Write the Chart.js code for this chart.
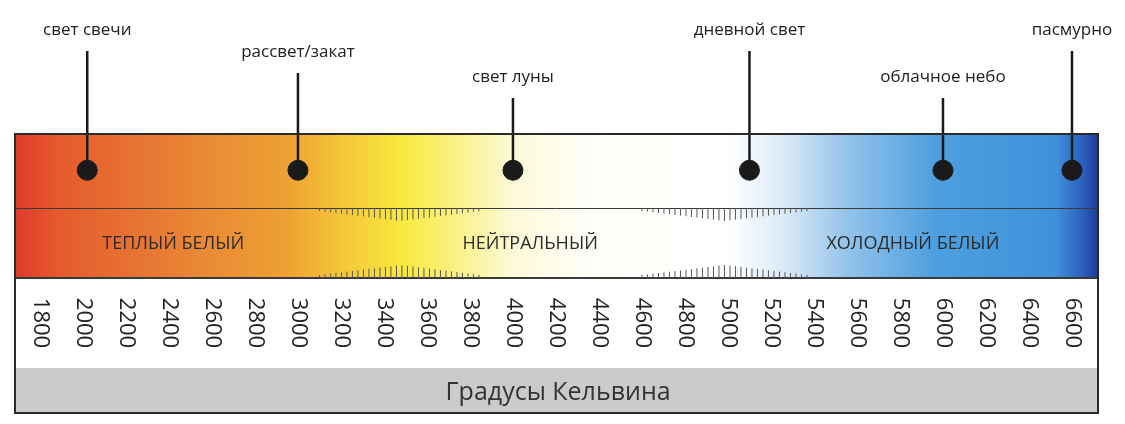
<!DOCTYPE html>
<html>
<head>
<meta charset="utf-8">
<script src="https://cdn.jsdelivr.net/npm/chart.js@4"></script>
<style>
  html, body { margin: 0; padding: 0; background: #fff; }
  #wrap { width: 1125px; height: 424px; }
</style>
</head>
<body>
<div id="wrap"><canvas id="c" width="1125" height="424"></canvas></div>
<script>
// ===== DATA =====
const kelvinTicks = [1800, 2000, 2200, 2400, 2600, 2800, 3000, 3200, 3400, 3600, 3800, 4000,
                     4200, 4400, 4600, 4800, 5000, 5200, 5400, 5600, 5800, 6000, 6200, 6400, 6600];
const markerNames = ['свет свечи', 'рассвет/закат', 'свет луны', 'дневной свет', 'облачное небо', 'пасмурно'];
const markerKelvin = [2020, 3000, 4000, 5100, 6000, 6600];
const zoneNames = ['ТЕПЛЫЙ БЕЛЫЙ', 'НЕЙТРАЛЬНЫЙ', 'ХОЛОДНЫЙ БЕЛЫЙ'];
const zoneCenters = [2420, 4080, 5860];
const axisTitle = 'Градусы Кельвина';

// label heights (style only)
const labelTop = [30, 52, 77, 30, 77, 30];
const font = '"Open Sans", "DejaVu Sans", sans-serif';

const dots = markerKelvin.map(k => ({ x: k, y: 0.87 }));

const infographic = {
  id: 'infographic',
  beforeDatasetsDraw(chart) {
    const { ctx, chartArea: a, scales: { x } } = chart;
    const bandBottom = 278, sep = 208;
    // spectrum gradient
    const g = ctx.createLinearGradient(a.left, 0, a.right, 0);
    const w = a.right - a.left;
    const stops = [[0, '#df3a2c'], [0.04, '#e55a2e'], [0.17, '#e98835'], [0.25, '#eea033'],
      [0.31, '#f4cc38'], [0.36, '#f8ea40'], [0.40, '#faf07a'], [0.46, '#fdf9d8'],
      [0.53, '#fffffa'], [0.66, '#ffffff'], [0.71, '#dbe9f6'], [0.77, '#92c2ea'],
      [0.85, '#4d9fe0'], [0.96, '#3f92da'], [0.985, '#2d62c0'], [1, '#1c3b96']];
    stops.forEach(s => g.addColorStop(s[0], s[1]));
    ctx.save();
    ctx.fillStyle = g;
    ctx.fillRect(a.left, a.top, w, bandBottom - a.top);
    ctx.fillStyle = '#fff';
    ctx.fillRect(a.left, bandBottom, w, 368 - bandBottom);
    ctx.fillStyle = '#cbcbcd';
    ctx.fillRect(a.left, 368, w, a.bottom - 368);

    // separator lines
    ctx.strokeStyle = '#3a3a3a';
    ctx.lineWidth = 1;
    ctx.beginPath(); ctx.moveTo(a.left, sep + 0.5); ctx.lineTo(a.right, sep + 0.5); ctx.stroke();
    ctx.lineWidth = 2;
    ctx.beginPath(); ctx.moveTo(a.left, bandBottom); ctx.lineTo(a.right, bandBottom); ctx.stroke();

    // hatch marks in transition zones
    ctx.lineWidth = 1;
    ctx.strokeStyle = '#555';
    [[3100, 3850], [4600, 5370]].forEach(([k0, k1]) => {
      const x0 = x.getPixelForValue(k0), x1 = x.getPixelForValue(k1);
      const mid = (x0 + x1) / 2;
      for (let px = x0; px <= x1; px += 5.5) {
        const t = 1 - Math.abs(px - mid) / ((x1 - x0) / 2);
        const len = 3 + 10 * t;
        ctx.beginPath(); ctx.moveTo(px, sep); ctx.lineTo(px, sep + len); ctx.stroke();
        ctx.beginPath(); ctx.moveTo(px, bandBottom); ctx.lineTo(px, bandBottom - len); ctx.stroke();
      }
    });

    // zone names
    ctx.fillStyle = '#2a2a2a';
    ctx.font = '18px ' + font;
    ctx.textAlign = 'center';
    ctx.textBaseline = 'middle';
    zoneNames.forEach((n, i) => ctx.fillText(n, x.getPixelForValue(zoneCenters[i]), 244));

    // rotated kelvin tick labels
    ctx.font = '22px ' + font;
    ctx.fillStyle = '#222';
    kelvinTicks.forEach(k => {
      ctx.save();
      ctx.translate(x.getPixelForValue(k), 323);
      ctx.rotate(Math.PI / 2);
      ctx.fillText(String(k), 0, 0);
      ctx.restore();
    });

    // axis title
    ctx.font = '25px ' + font;
    ctx.fillStyle = '#333';
    ctx.fillText(axisTitle, x.getPixelForValue(4210), 393);

    // marker labels and leader lines
    const meta = chart.getDatasetMeta(0);
    ctx.font = '17px ' + font;
    ctx.fillStyle = '#222';
    ctx.strokeStyle = '#1a1a1a';
    ctx.lineWidth = 2.5;
    meta.data.forEach((pt, i) => {
      let tx = pt.x;
      const tw = ctx.measureText(markerNames[i]).width;
      if (tx + tw / 2 > 1118) tx = 1118 - tw / 2;
      ctx.fillText(markerNames[i], tx, labelTop[i]);
      ctx.beginPath(); ctx.moveTo(pt.x, labelTop[i] + 21); ctx.lineTo(pt.x, pt.y); ctx.stroke();
    });

    // frame
    ctx.lineWidth = 2;
    ctx.strokeStyle = '#2a2a2a';
    ctx.strokeRect(a.left, a.top, w, a.bottom - a.top);
    ctx.restore();
  }
};

new Chart(document.getElementById('c'), {
  type: 'scatter',
  data: {
    datasets: [{
      data: dots,
      backgroundColor: '#1a1a1a',
      borderColor: '#1a1a1a',
      pointRadius: 10,
      pointHoverRadius: 10
    }]
  },
  options: {
    responsive: false,
    animation: false,
    events: [],
    layout: { padding: { left: 15, right: 27, top: 134, bottom: 6 } },
    plugins: { legend: { display: false }, tooltip: { enabled: false } },
    scales: {
      x: { type: 'linear', min: 1684, max: 6721, display: false },
      y: { min: 0, max: 1, display: false }
    }
  },
  plugins: [infographic]
});
</script>
</body>
</html>
